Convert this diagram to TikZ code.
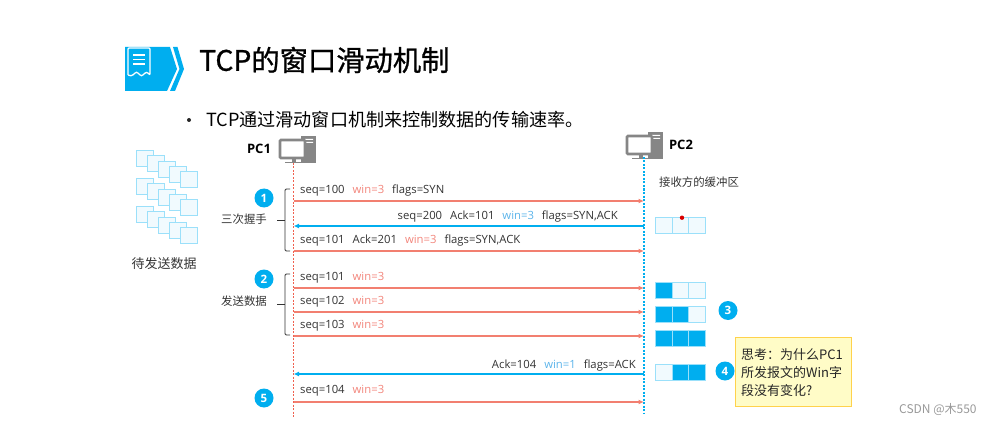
\documentclass[tikz,border=0pt]{standalone}
\usepackage{fontspec}
\setmainfont{Open Sans}
\newfontfamily\cjk{Noto Sans CJK SC}
\newfontfamily\cjkmed[FakeBold=0.9]{Noto Sans CJK SC}
\usetikzlibrary{arrows.meta}
\definecolor{hwblue}{HTML}{00AEEF}
\definecolor{sendred}{HTML}{F27F70}
\definecolor{dotred}{HTML}{F0604F}
\definecolor{winred}{HTML}{F2857B}
\definecolor{winblue}{HTML}{5CB4EA}
\definecolor{cellline}{HTML}{9BE0FA}
\definecolor{cellfill}{HTML}{F1FAFE}
\definecolor{textgray}{HTML}{333333}
\tikzset{
    datasq/.style={draw=cellline,fill=cellfill,line width=1.1pt,minimum width=17pt,minimum height=16pt,inner sep=0pt,anchor=north west},
    cell/.style={draw=cellline,fill=cellfill,line width=1.4pt,minimum width=16.5pt,minimum height=16pt,inner sep=0pt,anchor=north west},
    cellon/.style={cell,fill=hwblue},
    stepnum/.style={circle,fill=hwblue,text=white,minimum size=19pt,inner sep=0pt,font=\fontsize{11.5}{13}\selectfont\bfseries},
    msg/.style={inner sep=0pt,yshift=-1pt,text=textgray,font=\fontsize{11.3}{13}\selectfont},
    cn/.style={inner sep=0pt,text=textgray,font=\cjk\fontsize{11.4}{14}\selectfont},
    sendline/.style={draw=sendred,line width=1.4pt,-{Latex[length=5.5pt,width=5pt]}},
    ackline/.style={draw=hwblue,line width=1.4pt,-{Latex[length=5.5pt,width=5pt]}},
    brack/.style={draw=textgray,line width=0.8pt,rounded corners=1.2pt},
    pc/.pic={
        \fill[gray!95] (22,-3) rectangle (37,24);
        \fill[white] (26,0) rectangle (34,1) (26,3) rectangle (34,4);
        \fill[gray!95] (6,23) rectangle (24,24.5);
        \fill[gray!95] (13,20) rectangle (17,23);
        \draw[gray!95,fill=white,line width=2.6pt,rounded corners=1pt] (1,1) rectangle (26,19);
    }
}
\newcommand{\winr}[1]{\textcolor{winred}{#1}}
\newcommand{\winb}[1]{\textcolor{winblue}{#1}}
\newcommand{\msggap}{\hspace{8pt}}
\begin{document}
\begin{tikzpicture}[x=1pt,y=-1pt]
    \useasboundingbox (0,0) rectangle (991,425);
    % title
    \fill[hwblue] (125,47) -- (170,47) -- (177,69) -- (167,91) -- (125,91) -- cycle;
    \fill[hwblue] (173,47) -- (177.5,47) -- (184,69) -- (175,91) -- (170,91) -- (179.5,69) -- cycle;
    \draw[white,line width=1.3pt,rounded corners=1pt] (128,75) -- (128,48) -- (150,48) -- (150,75)
        .. controls (147,72) and (146,72) .. (144,74) .. controls (142,76) and (141,76) .. (139,74)
        .. controls (137,72) and (136,72) .. (134,74) .. controls (132,76) and (130,76) .. (128,75);
    \draw[white,line width=1.3pt] (133,55) -- (145,55) (133,59.5) -- (145,59.5) (133,64) -- (145,64);
    \node[inner sep=0pt,anchor=west,text=black] (title) at (199,60) {\cjkmed\fontsize{28.3}{32}\selectfont TCP的窗口滑动机制};
    \fill[black!85] (189,120) circle (2);
    \node[inner sep=0pt,anchor=west,text=black] (intro) at (206,120) {\cjk\fontsize{18.1}{22}\selectfont TCP通过滑动窗口机制来控制数据的传输速率。};
    % data to send
    \node[datasq] (d1) at (136,150) {};
    \node[datasq] (d2) at (147,155.3) {};
    \node[datasq] (d3) at (158,160.6) {};
    \node[datasq] (d4) at (169,166) {};
    \node[datasq] (d5) at (180,171.3) {};
    \node[datasq] (d6) at (136,178) {};
    \node[datasq] (d7) at (147,183.3) {};
    \node[datasq] (d8) at (158,188.6) {};
    \node[datasq] (d9) at (169,194) {};
    \node[datasq] (d10) at (180,199.3) {};
    \node[datasq] (d11) at (136,206) {};
    \node[datasq] (d12) at (147,211.3) {};
    \node[datasq] (d13) at (158,216.6) {};
    \node[datasq] (d14) at (169,222) {};
    \node[datasq] (d15) at (180,227.3) {};
    \node[cn,font=\cjk\fontsize{13}{15}\selectfont] (pending) at (164,264) {待发送数据};
    % the two hosts
    \pic at (279,139) {pc};
    \pic at (626,135) {pc};
    \node[inner sep=0pt,text=black,font=\fontsize{13}{15}\selectfont\bfseries] (pc1) at (259,149) {PC1};
    \node[inner sep=0pt,text=black,font=\fontsize{13}{15}\selectfont\bfseries] (pc2) at (681,145) {PC2};
    \node[cn] (bufname) at (699,182) {接收方的缓冲区};
    \coordinate (top1) at (293.5,163);
    \coordinate (top2) at (644,157);
    \coordinate (end1) at (293.5,417);
    \coordinate (end2) at (644,414);
    \draw[dotred,line width=1.6pt,dash pattern=on 2pt off 1.5pt] (top1) -- (end1);
    \draw[hwblue,line width=1.6pt,dash pattern=on 2pt off 1.5pt] (top2) -- (end2);
    % messages
    \coordinate (a1) at (293.5,201);
    \coordinate (b1) at (644,201);
    \coordinate (a2) at (293.5,226);
    \coordinate (b2) at (644,226);
    \coordinate (a3) at (293.5,251);
    \coordinate (b3) at (644,251);
    \coordinate (a4) at (293.5,288);
    \coordinate (b4) at (644,288);
    \coordinate (a5) at (293.5,312);
    \coordinate (b5) at (644,312);
    \coordinate (a6) at (293.5,336);
    \coordinate (b6) at (644,336);
    \coordinate (a7) at (293.5,374);
    \coordinate (b7) at (644,374);
    \coordinate (a8) at (293.5,402);
    \coordinate (b8) at (644,402);
    \draw[sendline] (a1) -- (b1);
    \draw[ackline] (b2) -- (a2);
    \draw[sendline] (a3) -- (b3);
    \draw[sendline] (a4) -- (b4);
    \draw[sendline] (a5) -- (b5);
    \draw[sendline] (a6) -- (b6);
    \draw[ackline] (b7) -- (a7);
    \draw[sendline] (a8) -- (b8);
    \node[msg,anchor=west] (m1) at (300,190) {seq=100\msggap\winr{win=3}\msggap flags=SYN};
    \node[msg,anchor=east] (m2) at (618,216) {seq=200\msggap Ack=101\msggap\winb{win=3}\msggap flags=SYN,ACK};
    \node[msg,anchor=west] (m3) at (300,240) {seq=101\msggap Ack=201\msggap\winr{win=3}\msggap flags=SYN,ACK};
    \node[msg,anchor=west] (m4) at (300,277) {seq=101\msggap\winr{win=3}};
    \node[msg,anchor=west] (m5) at (300,301) {seq=102\msggap\winr{win=3}};
    \node[msg,anchor=west] (m6) at (300,325) {seq=103\msggap\winr{win=3}};
    \node[msg,anchor=east] (m7) at (636,365) {Ack=104\msggap\winb{win=1}\msggap flags=ACK};
    \node[msg,anchor=west] (m8) at (300,390) {seq=104\msggap\winr{win=3}};
    % brackets
    \draw[brack] (290,189) -- (285,189) -- (285,251) -- (290,251);
    \draw[brack] (277,220) -- (285,220);
    \draw[brack] (290,274) -- (285,274) -- (285,335) -- (290,335);
    \draw[brack] (277,304) -- (285,304);
    \node[cn] (shake) at (244,219) {三次握手};
    \node[cn] (senddata) at (244,301) {发送数据};
    % receive buffer
    \node[cell] (c11) at (655,216.5) {};
    \node[cell] (c12) at (671.5,216.5) {};
    \node[cell] (c13) at (688,216.5) {};
    \fill[red!85!black] (682,217.7) circle (2.2);
    \node[cellon] (c21) at (655,281.5) {};
    \node[cell] (c22) at (671.5,281.5) {};
    \node[cell] (c23) at (688,281.5) {};
    \node[cellon] (c31) at (655,306) {};
    \node[cellon] (c32) at (671.5,306) {};
    \node[cell] (c33) at (688,306) {};
    \node[cellon] (c41) at (655,330) {};
    \node[cellon] (c42) at (671.5,330) {};
    \node[cellon] (c43) at (688,330) {};
    \node[cell] (c51) at (655,363.5) {};
    \node[cellon] (c52) at (671.5,363.5) {};
    \node[cellon] (c53) at (688,363.5) {};
    % step numbers
    \node[stepnum] (n1) at (264,198) {1};
    \node[stepnum] (n2) at (264,279) {2};
    \node[stepnum] (n3) at (728,310.5) {3};
    \node[stepnum] (n5) at (264,398) {5};
    % note
    \node[draw=orange!50!yellow!70,fill=yellow!22,line width=0.9pt,anchor=north west,minimum width=116.5pt,minimum height=69pt,inner sep=0pt] (note) at (734.5,337) {};
    \node[stepnum] (n4) at (725,371) {4};
    \node[inner sep=0pt,anchor=west,text=black!85,font=\cjk\fontsize{13}{15}\selectfont] (note1) at (741,354.5) {思考：为什么PC1};
    \node[inner sep=0pt,anchor=west,text=black!85,font=\cjk\fontsize{13}{15}\selectfont] (note2) at (741,372.5) {所发报文的Win字};
    \node[inner sep=0pt,anchor=west,text=black!85,font=\cjk\fontsize{13}{15}\selectfont] (note3) at (741,391) {段没有变化?};
    \node[inner sep=0pt,anchor=west,text=black!40,font=\cjk\fontsize{12}{15}\selectfont] (mark) at (899,410) {CSDN @木550};
\end{tikzpicture}
\end{document}
